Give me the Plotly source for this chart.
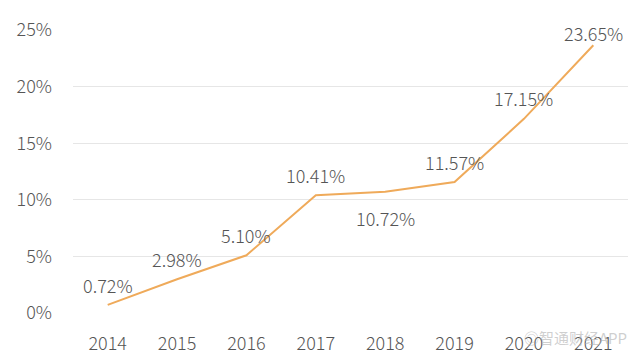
import plotly.graph_objects as go

years = ["2014", "2015", "2016", "2017", "2018", "2019", "2020", "2021"]
values = [0.72, 2.98, 5.10, 10.41, 10.72, 11.57, 17.15, 23.65]
y_ticks = [0, 5, 10, 15, 20, 25]
y_tick_text = ["0%", "5%", "10%", "15%", "20%", "25%"]

# label placement: pixel offset of each value label from its point
label_shift = [20, 20, 20, 20, -26, 20, 21, 12]

FONT = "Noto Sans CJK SC, Noto Sans, sans-serif"
GREY = "#555555"

# page body has an 8px default margin; the figure is sized to fit the window
OFF = 8
W, H = 638 - OFF, 357 - OFF
L, T, R, B = 73 - OFF, 30 - OFF, 18 - OFF, 44
PW, PH = W - L - R, H - T - B

xs = list(range(len(years)))

fig = go.Figure()
fig.add_trace(go.Scatter(
    x=xs, y=values,
    mode="lines",
    line=dict(color="#EFAA5A", width=2),
    hoverinfo="skip",
))

for xi, v, s in zip(xs, values, label_shift):
    fig.add_annotation(
        x=xi, y=v, xref="x", yref="y", text=f"{v:.2f}%",
        showarrow=False, xanchor="center", yanchor="middle", yshift=s,
        font=dict(family=FONT, size=18, color=GREY, weight=300),
    )

fig.update_layout(
    width=W, height=H,
    margin=dict(l=L, r=R, t=T, b=B, autoexpand=False),
    paper_bgcolor="white", plot_bgcolor="white",
    showlegend=False,
    font=dict(family=FONT, color=GREY),
    xaxis=dict(
        range=[-0.5, 7.5],
        tickmode="array", tickvals=xs, ticktext=years,
        showgrid=False, zeroline=False, showline=False,
        tickfont=dict(family=FONT, size=18, color=GREY, weight=300),
        ticklabelstandoff=18,
    ),
    yaxis=dict(
        range=[0, 25],
        tickmode="array", tickvals=y_ticks, ticktext=y_tick_text,
        showgrid=True, gridcolor="#E6E6E6", gridwidth=1.2,
        zeroline=False, showline=False,
        tickfont=dict(family=FONT, size=18, color=GREY, weight=300),
        ticklabelstandoff=20,
    ),
    shapes=[
        dict(type="line", xref="paper", yref="paper",
             x0=(2 - 73) / PW, x1=(2 - 73) / PW,
             y0=-B / PH, y1=1 + T / PH, line=dict(color="#E8E8E8", width=1)),
        dict(type="line", xref="paper", yref="paper",
             x0=(636.5 - 73) / PW, x1=(636.5 - 73) / PW,
             y0=-B / PH, y1=1 + T / PH, line=dict(color="#222222", width=2)),
    ],
)

fig.add_annotation(
    text="◎智通财经APP", xref="paper", yref="paper",
    x=(629 - 73) / PW, y=-24 / PH, xanchor="right", yanchor="middle",
    showarrow=False,
    font=dict(family=FONT, size=15, color="rgba(175,175,175,0.6)"),
)

fig.write_html("out.html")
